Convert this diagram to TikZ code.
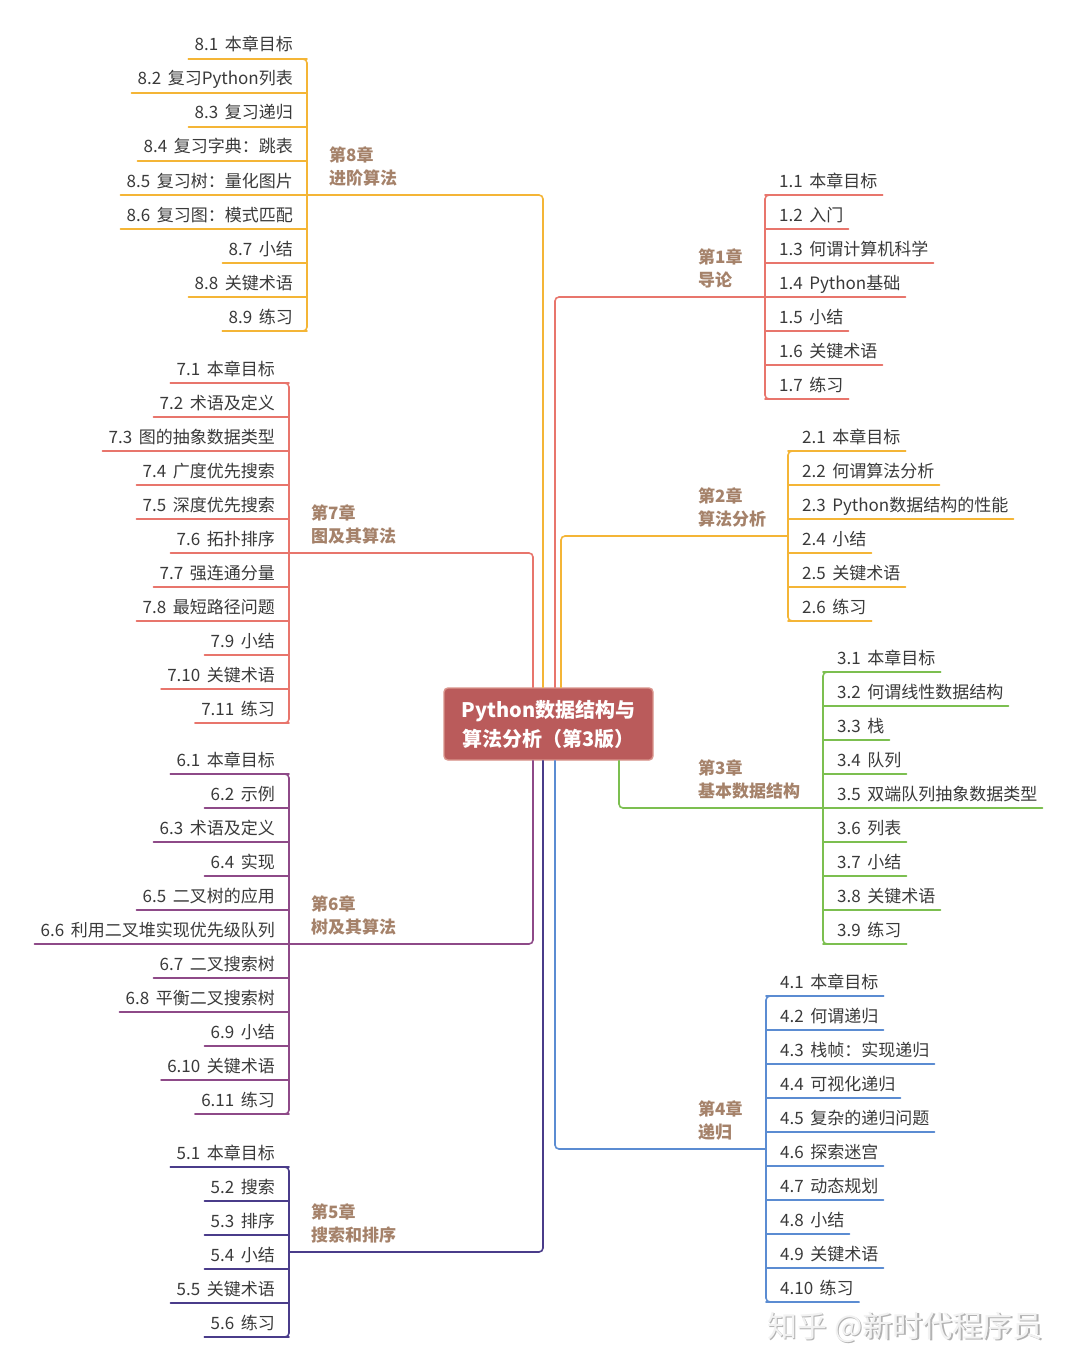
\documentclass[tikz,border=0pt]{standalone}
\usepackage{fontspec}
\setmainfont{Noto Sans CJK SC}
\definecolor{cyel}{HTML}{F4B536}
\definecolor{cred}{HTML}{E8756C}
\definecolor{cgreen}{HTML}{7CBF50}
\definecolor{cblue}{HTML}{5B8CD2}
\definecolor{cindigo}{HTML}{4A3C8A}
\definecolor{cpurple}{HTML}{8E4A88}
\definecolor{croot}{HTML}{BA5B5B}
\definecolor{crootedge}{HTML}{D9948C}
\definecolor{clabel}{HTML}{A5826A}
\definecolor{ctext}{HTML}{3A3A3A}
\newcommand\widesp{\spaceskip=6.5pt\relax}
\tikzset{
  item/.style={inner sep=0pt, font=\fontsize{17}{20}\selectfont, text=ctext},
  chaplabel/.style={inner sep=0pt, anchor=base west, font=\bfseries\fontsize{17}{20}\selectfont, text=clabel},
  branch/.style={line width=1.6pt, line cap=round},
  rootbox/.style={fill=croot, draw=crootedge, line width=1.4pt, rounded corners=4pt,
    minimum width=209pt, minimum height=72pt, align=center, text=white,
    font=\bfseries\fontsize{20}{29}\selectfont, inner sep=0pt}
}
% right-side chapter: prefix, colour, bracket x, first y, count, items
\newcommand\chapR[6]{%
  \foreach \t [count=\i] in {#6}{%
    \pgfmathsetmacro\yy{#4+(\i-1)*34}%
    \coordinate (#1-u\i) at (#3,\yy);
    \node[item, anchor=base west] (#1-\i) at (#3+14,\yy-8) {\widesp\t};
    \draw[branch,#2] (#1-u\i) -- ([xshift=5pt]#1-\i.east |- #1-u\i);
  }
  \draw[branch,#2,rounded corners=4pt] ([xshift=5pt]#1-1.east |- #1-u1) -- (#1-u1) -- (#1-u#5) -- ([xshift=5pt]#1-#5.east |- #1-u#5);
}
% left-side chapter
\newcommand\chapL[6]{%
  \foreach \t [count=\i] in {#6}{%
    \pgfmathsetmacro\yy{#4+(\i-1)*34}%
    \coordinate (#1-u\i) at (#3,\yy);
    \node[item, anchor=base east] (#1-\i) at (#3-14,\yy-8) {\widesp\t};
    \draw[branch,#2] (#1-u\i) -- ([xshift=-6pt]#1-\i.west |- #1-u\i);
  }
  \draw[branch,#2,rounded corners=4pt] ([xshift=-6pt]#1-1.west |- #1-u1) -- (#1-u1) -- (#1-u#5) -- ([xshift=-6pt]#1-#5.west |- #1-u#5);
}
\begin{document}
\begin{tikzpicture}[x=1pt,y=-1pt]
\fill[white] (0,0) rectangle (1080,1370);
\useasboundingbox (0,0) rectangle (1080,1370);

% root
\node[rootbox] (root) at (548.5,724) {Python数据结构与\\算法分析（第3版）};

% chapter 8
\chapL{c8}{cyel}{307}{59}{9}{8.1 本章目标, 8.2 复习Python列表, 8.3 复习递归, 8.4 复习字典：跳表, 8.5 复习树：量化图片, 8.6 复习图：模式匹配, 8.7 小结, 8.8 关键术语, 8.9 练习}
\coordinate (c8-m) at (307,195);
\draw[branch,cyel,rounded corners=4pt] ([xshift=-5.5pt]root.north) |- (c8-m);
\node[chaplabel] (l8a) at (329,161) {第8章};
\node[chaplabel] (l8b) at (329,184) {进阶算法};

% chapter 7
\chapL{c7}{cred}{289}{383}{11}{7.1 本章目标, 7.2 术语及定义, 7.3 图的抽象数据类型, 7.4 广度优先搜索, 7.5 深度优先搜索, 7.6 拓扑排序, 7.7 强连通分量, 7.8 最短路径问题, 7.9 小结, 7.10 关键术语, 7.11 练习}
\coordinate (c7-m) at (289,553);
\draw[branch,cred,rounded corners=4pt] ([xshift=-15.5pt]root.north) |- (c7-m);
\node[chaplabel] (l7a) at (311,519) {第7章};
\node[chaplabel] (l7b) at (311,542) {图及其算法};

% chapter 6
\chapL{c6}{cpurple}{289}{774}{11}{6.1 本章目标, 6.2 示例, 6.3 术语及定义, 6.4 实现, 6.5 二叉树的应用, 6.6 利用二叉堆实现优先级队列, 6.7 二叉搜索树, 6.8 平衡二叉搜索树, 6.9 小结, 6.10 关键术语, 6.11 练习}
\coordinate (c6-m) at (289,944);
\draw[branch,cpurple,rounded corners=4pt] ([xshift=-15.5pt]root.south) |- (c6-m);
\node[chaplabel] (l6a) at (311,910) {第6章};
\node[chaplabel] (l6b) at (311,933) {树及其算法};

% chapter 5
\chapL{c5}{cindigo}{289}{1167}{6}{5.1 本章目标, 5.2 搜索, 5.3 排序, 5.4 小结, 5.5 关键术语, 5.6 练习}
\coordinate (c5-m) at (289,1252);
\draw[branch,cindigo,rounded corners=4pt] ([xshift=-5.5pt]root.south) |- (c5-m);
\node[chaplabel] (l5a) at (311,1218) {第5章};
\node[chaplabel] (l5b) at (311,1241) {搜索和排序};

% chapter 1
\chapR{c1}{cred}{765}{195}{7}{1.1 本章目标, 1.2 入门, 1.3 何谓计算机科学, 1.4 Python基础, 1.5 小结, 1.6 关键术语, 1.7 练习}
\coordinate (c1-m) at (765,297);
\draw[branch,cred,rounded corners=4pt] ([xshift=6.5pt]root.north) |- (c1-m);
\node[chaplabel] (l1a) at (698,263) {第1章};
\node[chaplabel] (l1b) at (698,286) {导论};

% chapter 2
\chapR{c2}{cyel}{788}{451}{6}{2.1 本章目标, 2.2 何谓算法分析, 2.3 Python数据结构的性能, 2.4 小结, 2.5 关键术语, 2.6 练习}
\coordinate (c2-m) at (788,536);
\draw[branch,cyel,rounded corners=4pt] ([xshift=12.5pt]root.north) |- (c2-m);
\node[chaplabel] (l2a) at (698,502) {第2章};
\node[chaplabel] (l2b) at (698,525) {算法分析};

% chapter 3
\chapR{c3}{cgreen}{823}{672}{9}{3.1 本章目标, 3.2 何谓线性数据结构, 3.3 栈, 3.4 队列, 3.5 双端队列抽象数据类型, 3.6 列表, 3.7 小结, 3.8 关键术语, 3.9 练习}
\coordinate (c3-m) at (823,808);
\draw[branch,cgreen,rounded corners=4pt] ([xshift=70.5pt]root.south) |- (c3-m);
\node[chaplabel] (l3a) at (698,774) {第3章};
\node[chaplabel] (l3b) at (698,797) {基本数据结构};

% chapter 4
\chapR{c4}{cblue}{766}{996}{10}{4.1 本章目标, 4.2 何谓递归, 4.3 栈帧：实现递归, 4.4 可视化递归, 4.5 复杂的递归问题, 4.6 探索迷宫, 4.7 动态规划, 4.8 小结, 4.9 关键术语, 4.10 练习}
\coordinate (c4-m) at (766,1149);
\draw[branch,cblue,rounded corners=4pt] ([xshift=6.5pt]root.south) |- (c4-m);
\node[chaplabel] (l4a) at (698,1115) {第4章};
\node[chaplabel] (l4b) at (698,1138) {递归};

% watermark
\node[inner sep=0pt, font=\fontsize{30}{30}\selectfont, text=gray!60] (wms) at (906.5,1328.5) {知乎 @新时代程序员};
\node[inner sep=0pt, font=\fontsize{30}{30}\selectfont, text=gray!10] (wm) at (905,1327) {知乎 @新时代程序员};
\end{tikzpicture}
\end{document}
